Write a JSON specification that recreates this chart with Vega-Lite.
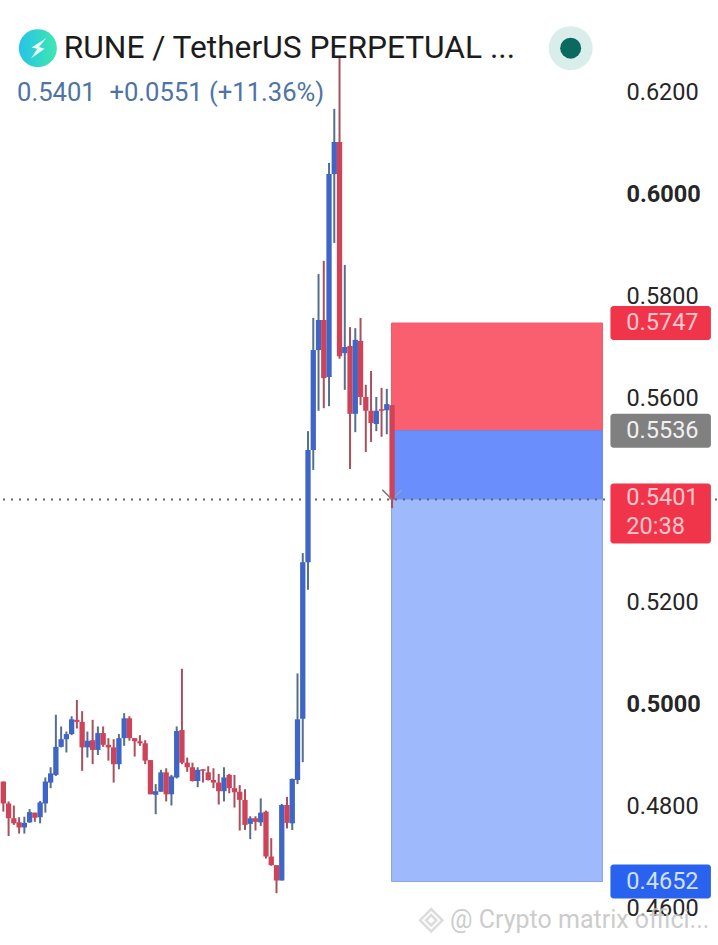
{"$schema":"https://vega.github.io/schema/vega-lite/v6.json","width":718,"height":945,"padding":0,"autosize":{"type":"fit","contains":"padding"},"background":"white","config":{"view":{"stroke":null},"text":{"font":"Roboto"}},
"datasets":{"candles":[
{"t":0,"open":0.4848,"high":0.4848,"low":0.4789,"close":0.4805},{"t":1,"open":0.4805,"high":0.4809,"low":0.4741,"close":0.4776},{"t":2,"open":0.4776,"high":0.4801,"low":0.4763,"close":0.4766},{"t":3,"open":0.4768,"high":0.4778,"low":0.4746,"close":0.4758},{"t":4,"open":0.4758,"high":0.4779,"low":0.4746,"close":0.4767},{"t":5,"open":0.4768,"high":0.4794,"low":0.4767,"close":0.4788},{"t":6,"open":0.4787,"high":0.4787,"low":0.4769,"close":0.4777},{"t":7,"open":0.4778,"high":0.481,"low":0.4766,"close":0.4807},{"t":8,"open":0.4805,"high":0.4856,"low":0.4787,"close":0.4848},{"t":9,"open":0.4846,"high":0.4876,"low":0.4835,"close":0.4864},
{"t":10,"open":0.4861,"high":0.4979,"low":0.4859,"close":0.4916},{"t":11,"open":0.4916,"high":0.4956,"low":0.4915,"close":0.4931},{"t":12,"open":0.4931,"high":0.4946,"low":0.4905,"close":0.4941},{"t":13,"open":0.4941,"high":0.4976,"low":0.4939,"close":0.497},{"t":14,"open":0.4969,"high":0.5008,"low":0.4952,"close":0.4965},{"t":15,"open":0.4965,"high":0.4986,"low":0.4869,"close":0.4915},{"t":16,"open":0.4915,"high":0.4946,"low":0.4895,"close":0.4928},{"t":17,"open":0.4929,"high":0.4969,"low":0.4882,"close":0.491},{"t":18,"open":0.491,"high":0.4956,"low":0.49,"close":0.4943},{"t":19,"open":0.4943,"high":0.4956,"low":0.4916,"close":0.492},
{"t":20,"open":0.492,"high":0.4933,"low":0.4889,"close":0.4915},{"t":21,"open":0.4915,"high":0.4931,"low":0.4846,"close":0.4882},{"t":22,"open":0.4882,"high":0.4941,"low":0.4872,"close":0.4933},{"t":23,"open":0.4933,"high":0.4982,"low":0.4918,"close":0.4972},{"t":24,"open":0.4972,"high":0.4976,"low":0.4928,"close":0.4933},{"t":25,"open":0.4933,"high":0.4933,"low":0.4897,"close":0.4927},{"t":26,"open":0.4927,"high":0.4939,"low":0.4918,"close":0.4923},{"t":27,"open":0.4923,"high":0.4929,"low":0.4882,"close":0.4889},{"t":28,"open":0.489,"high":0.489,"low":0.4823,"close":0.4823},{"t":29,"open":0.4822,"high":0.4843,"low":0.4784,"close":0.4829},
{"t":30,"open":0.4828,"high":0.4871,"low":0.4828,"close":0.4866},{"t":31,"open":0.4866,"high":0.4874,"low":0.4809,"close":0.4823},{"t":32,"open":0.4823,"high":0.4861,"low":0.4801,"close":0.4858},{"t":33,"open":0.4856,"high":0.4956,"low":0.4854,"close":0.4947},{"t":34,"open":0.4949,"high":0.5069,"low":0.4882,"close":0.4885},{"t":35,"open":0.4885,"high":0.4895,"low":0.4867,"close":0.4876},{"t":36,"open":0.4876,"high":0.4885,"low":0.4848,"close":0.4849},{"t":37,"open":0.4849,"high":0.4876,"low":0.4837,"close":0.4871},{"t":38,"open":0.4872,"high":0.4872,"low":0.4846,"close":0.4869},{"t":39,"open":0.4866,"high":0.4878,"low":0.485,"close":0.4851},
{"t":40,"open":0.4851,"high":0.4874,"low":0.4835,"close":0.4846},{"t":41,"open":0.4846,"high":0.4863,"low":0.4803,"close":0.4829},{"t":42,"open":0.4829,"high":0.4876,"low":0.4809,"close":0.4856},{"t":43,"open":0.4861,"high":0.4863,"low":0.4825,"close":0.4835},{"t":44,"open":0.4835,"high":0.4861,"low":0.4797,"close":0.4827},{"t":45,"open":0.4828,"high":0.4841,"low":0.4752,"close":0.4812},{"t":46,"open":0.4812,"high":0.4833,"low":0.4753,"close":0.4763},{"t":47,"open":0.4765,"high":0.478,"low":0.4735,"close":0.4776},{"t":48,"open":0.4776,"high":0.478,"low":0.4752,"close":0.4769},{"t":49,"open":0.4768,"high":0.4815,"low":0.4761,"close":0.4787},
{"t":50,"open":0.4789,"high":0.4791,"low":0.4697,"close":0.4701},{"t":51,"open":0.4701,"high":0.4737,"low":0.4683,"close":0.4684},{"t":52,"open":0.4684,"high":0.4684,"low":0.4629,"close":0.4654},{"t":53,"open":0.4654,"high":0.4804,"low":0.4654,"close":0.4802},{"t":54,"open":0.4802,"high":0.4818,"low":0.4756,"close":0.4767},{"t":55,"open":0.4766,"high":0.4854,"low":0.4753,"close":0.4853},{"t":56,"open":0.4851,"high":0.506,"low":0.4843,"close":0.497},{"t":57,"open":0.4971,"high":0.5296,"low":0.4886,"close":0.5278},{"t":58,"open":0.5278,"high":0.5535,"low":0.5224,"close":0.5498},{"t":59,"open":0.5498,"high":0.5757,"low":0.5459,"close":0.5694},
{"t":60,"open":0.5694,"high":0.5843,"low":0.5575,"close":0.5753},{"t":61,"open":0.5753,"high":0.5869,"low":0.558,"close":0.5639},{"t":62,"open":0.5641,"high":0.6061,"low":0.5584,"close":0.6039},{"t":63,"open":0.6039,"high":0.6167,"low":0.5904,"close":0.6102},{"t":64,"open":0.6102,"high":0.6269,"low":0.5677,"close":0.5682},{"t":65,"open":0.5688,"high":0.5861,"low":0.5616,"close":0.57},{"t":66,"open":0.5702,"high":0.5739,"low":0.5461,"close":0.5569},{"t":67,"open":0.5569,"high":0.5737,"low":0.5533,"close":0.5714},{"t":68,"open":0.5712,"high":0.5757,"low":0.5586,"close":0.5602},{"t":69,"open":0.5602,"high":0.5626,"low":0.5494,"close":0.5575},
{"t":70,"open":0.5575,"high":0.5653,"low":0.5514,"close":0.5551},{"t":71,"open":0.5549,"high":0.5602,"low":0.5535,"close":0.5575},{"t":72,"open":0.5578,"high":0.562,"low":0.5524,"close":0.5575},{"t":73,"open":0.5576,"high":0.5618,"low":0.5529,"close":0.5588},{"t":74,"open":0.5586,"high":0.5586,"low":0.5384,"close":0.5401}],
"zones":[{"zone":"stop","start":73.9,"end":114.05,"top":0.5747,"bottom":0.5536},{"zone":"entry","start":73.9,"end":114.05,"top":0.5536,"bottom":0.5401},{"zone":"target","start":73.9,"end":114.05,"top":0.5401,"bottom":0.4652}]},
"layer":[
{"data":{"name":"zones"},"mark":{"type":"rect","strokeWidth":1},"encoding":{"x":{"field":"start","type":"quantitative","scale":{"domain":[-0.256,135.858],"nice":false,"zero":false},"axis":null},"x2":{"field":"end"},"y":{"field":"top","type":"quantitative","scale":{"domain":[0.45275,0.63804],"nice":false,"zero":false},"axis":{"orient":"right","values":[0.46,0.48,0.5,0.52,0.54,0.56,0.58,0.6,0.62],"format":".4f","title":null,"domain":false,"ticks":false,"grid":false,"labelFont":"Roboto","labelFontSize":23.5,"labelColor":"#262626","labelAlign":"left","labelPadding":-91,"labelFontWeight":{"condition":{"test":"datum.value==0.6||datum.value==0.5","value":"bold"},"value":"normal"},"labelOverlap":false,"labelBound":false,"labelFlush":false}},"y2":{"field":"bottom"},"color":{"field":"zone","type":"nominal","legend":null,"scale":{"domain":["stop","entry","target"],"range":["#f95f6e","#6a8ffc","#9fb9fd"]}},"stroke":{"field":"zone","type":"nominal","legend":null,"scale":{"domain":["stop","entry","target"],"range":["#ee5a68","#6687ee","#8aa3e2"]}}}},
{"data":{"values":[{"price":0.5401}]},"mark":{"type":"rule","color":"#666666","strokeWidth":2,"strokeDash":[2,6]},"encoding":{"y":{"field":"price","type":"quantitative"}}},
{"data":{"values":[{"t":74,"price":0.5401}]},"mark":{"type":"point","shape":"M0,0L1,-1","size":380,"stroke":"#8aa0d8","strokeWidth":1.5,"filled":false,"opacity":1},"encoding":{"x":{"field":"t","type":"quantitative"},"y":{"field":"price","type":"quantitative"}}},
{"data":{"name":"candles"},"mark":{"type":"rule","strokeWidth":2},"encoding":{"x":{"field":"t","type":"quantitative"},"y":{"field":"low","type":"quantitative"},"y2":{"field":"high"},"color":{"condition":{"test":"datum.close>=datum.open","value":"#55708f"},"value":"#a9505f"}}},
{"data":{"name":"candles"},"mark":{"type":"rect","width":5.3},"encoding":{"x":{"field":"t","type":"quantitative"},"y":{"field":"open","type":"quantitative"},"y2":{"field":"close"},"color":{"condition":{"test":"datum.close>=datum.open","value":"#3f65c6"},"value":"#cf4358"}}},
{"data":{"values":[{"t":74,"price":0.5401}]},"mark":{"type":"point","shape":"M-1,-1L0,0","size":380,"stroke":"#7d7d7d","strokeWidth":1.7,"filled":false,"opacity":1},"encoding":{"x":{"field":"t","type":"quantitative"},"y":{"field":"price","type":"quantitative"}}},
{"data":{"values":[{"label":"0.5747","price":0.5747,"kind":"red"},{"label":"0.5536","price":0.5536,"kind":"grey"},{"label":"0.4652","price":0.4652,"kind":"blue"}]},"mark":{"type":"rect","height":34,"cornerRadius":3},"encoding":{"x":{"datum":115.57,"type":"quantitative"},"x2":{"datum":134.7},"y":{"field":"price","type":"quantitative"},"color":{"condition":[{"test":"datum.kind=='red'","value":"#f0344a"},{"test":"datum.kind=='grey'","value":"#808080"}],"value":"#2a62f0"}}},
{"data":{"values":[{"label":"0.5401","price":0.5401}]},"mark":{"type":"rect","height":60,"yOffset":14,"cornerRadius":3,"color":"#f0344a"},"encoding":{"x":{"datum":115.57,"type":"quantitative"},"x2":{"datum":134.7},"y":{"field":"price","type":"quantitative"}}},
{"data":{"values":[{"label":"0.5747","price":0.5748,"kind":"red"},{"label":"0.5536","price":0.5536,"kind":"grey"},{"label":"0.5401","price":0.5404,"kind":"red"},{"label":"20:38","price":0.5347,"kind":"red"},{"label":"0.4652","price":0.4652,"kind":"blue"}]},"mark":{"type":"text","align":"left","baseline":"middle","font":"Roboto","fontSize":23.5},"encoding":{"x":{"datum":118.6,"type":"quantitative"},"y":{"field":"price","type":"quantitative"},"text":{"field":"label"},"color":{"condition":[{"test":"datum.kind=='red'","value":"#fbc6cc"},{"test":"datum.kind=='grey'","value":"#f0f0f0"}],"value":"#cfe0ff"}}},
{"data":{"values":[{"t":6.57,"price":0.6286}]},"mark":{"type":"point","shape":"circle","size":1444,"filled":true,"opacity":1,"strokeWidth":0,"fill":{"gradient":"linear","x1":0,"y1":0,"x2":1,"y2":0,"stops":[{"offset":0,"color":"#25c3ea"},{"offset":1,"color":"#3fe8ae"}]}},"encoding":{"x":{"field":"t","type":"quantitative"},"y":{"field":"price","type":"quantitative"}}},
{"data":{"values":[{"t":6.57,"price":0.6286}]},"mark":{"type":"point","shape":"M0.75,-0.9L-0.55,-0.05L-0.05,0.05L-0.6,0.9L0.6,0.05L0.1,-0.1Z","size":520,"filled":true,"opacity":1,"strokeWidth":0,"fill":"#e8fbf8"},"encoding":{"x":{"field":"t","type":"quantitative"},"y":{"field":"price","type":"quantitative"}}},
{"data":{"values":[{"label":"RUNE / TetherUS PERPETUAL ...","t":11.5,"price":0.6286}]},"mark":{"type":"text","align":"left","baseline":"middle","font":"Roboto","fontSize":31.7,"color":"#1c1c1c"},"encoding":{"x":{"field":"t","type":"quantitative"},"y":{"field":"price","type":"quantitative"},"text":{"field":"label"}}},
{"data":{"values":[{"label":"0.5401","t":2.6,"price":0.6198},{"label":"+0.0551 (+11.36%)","t":20.2,"price":0.6198}]},"mark":{"type":"text","align":"left","baseline":"middle","font":"Roboto","fontSize":25.6,"color":"#4e74a6"},"encoding":{"x":{"field":"t","type":"quantitative"},"y":{"field":"price","type":"quantitative"},"text":{"field":"label"}}},
{"data":{"values":[{"t":108,"price":0.6286}]},"mark":{"type":"point","shape":"circle","size":1936,"filled":true,"opacity":1,"strokeWidth":0,"fill":"#d9eeeb"},"encoding":{"x":{"field":"t","type":"quantitative"},"y":{"field":"price","type":"quantitative"}}},
{"data":{"values":[{"t":108,"price":0.6286}]},"mark":{"type":"point","shape":"circle","size":441,"filled":true,"opacity":1,"strokeWidth":0,"fill":"#0a6a5f"},"encoding":{"x":{"field":"t","type":"quantitative"},"y":{"field":"price","type":"quantitative"}}},
{"data":{"values":[{"t":81.45,"price":0.4576}]},"mark":{"type":"point","shape":"diamond","size":500,"filled":false,"opacity":0.8,"stroke":"#d4d4d4","strokeWidth":2.5},"encoding":{"x":{"field":"t","type":"quantitative"},"y":{"field":"price","type":"quantitative"}}},
{"data":{"values":[{"t":81.45,"price":0.4576}]},"mark":{"type":"point","shape":"diamond","size":110,"filled":false,"opacity":0.8,"stroke":"#d4d4d4","strokeWidth":2.5},"encoding":{"x":{"field":"t","type":"quantitative"},"y":{"field":"price","type":"quantitative"}}},
{"data":{"values":[{"label":"@ Crypto matrix offici...","t":85.05,"price":0.4576}]},"mark":{"type":"text","align":"left","baseline":"middle","font":"Roboto","fontSize":25,"color":"#c4c4c4","opacity":0.85},"encoding":{"x":{"field":"t","type":"quantitative"},"y":{"field":"price","type":"quantitative"},"text":{"field":"label"}}}
]}
